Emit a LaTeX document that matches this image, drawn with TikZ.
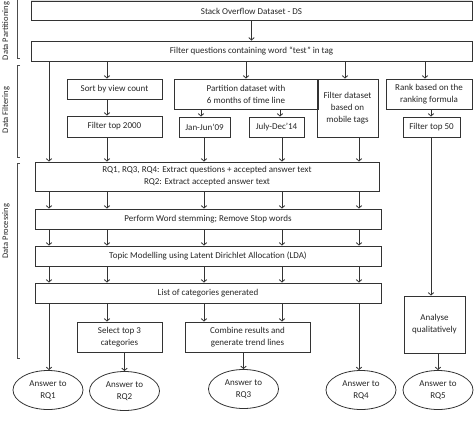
\documentclass[tikz,border=0pt]{standalone}
\usepackage{fontspec}
\setmainfont{Carlito}
\usetikzlibrary{arrows.meta,shapes.geometric}
\begin{document}
\begin{tikzpicture}[x=1pt,y=-1pt,
  every node/.style={font=\fontsize{9}{12}\selectfont, inner sep=0pt, align=center, text=black!85},
  box/.style={draw=black!80, line width=0.8pt, rectangle},
  oval/.style={draw=black!80, line width=0.8pt, ellipse, minimum width=70pt, minimum height=39pt},
  arr/.style={draw=black!80, line width=0.8pt, -{Straight Barb[length=2.5pt,width=5.5pt]}},
  brk/.style={draw=black!70, line width=0.8pt},
  lbl/.style={rotate=90, font=\fontsize{8.5}{10}\selectfont}]
\useasboundingbox (0,0) rectangle (474,426);
\fill[black!12] (31,0) rectangle (472,1.5);
% column coordinates
\coordinate (c1) at (49,0);
\coordinate (c2) at (107,0);
\coordinate (c3) at (204,0);
\coordinate (c4) at (282,0);
\coordinate (c5) at (359,0);
\coordinate (cm) at (345,0);
\coordinate (cr) at (425,0);
\coordinate (cf) at (431,0);
\coordinate (cj) at (201,0);
\coordinate (ck) at (280,0);
% nodes
\node[box, minimum width=441pt, minimum height=19pt] (ds) at (251.5,11) {Stack Overflow Dataset - DS};
\node[box, minimum width=441pt, minimum height=20pt] (filt) at (251.5,51) {Filter questions containing word “test” in tag};
\node[box, minimum width=95pt, minimum height=20pt] (sort) at (114.5,89) {Sort by view count};
\node[box, minimum width=95pt, minimum height=21pt] (f2000) at (114.5,126.5) {Filter top 2000};
\node[box, minimum width=144pt, minimum height=30pt] (part) at (246,94) {Partition dataset with\\6 months of time line};
\node[box, minimum width=51pt, minimum height=20pt] (jan) at (204.5,127) {Jan-Jun’09};
\node[box, minimum width=55pt, minimum height=20pt] (july) at (276.5,127) {July-Dec’14};
\node[box, minimum width=61pt, minimum height=58pt] (mob) at (347.5,108) {Filter dataset\\based on\\mobile tags};
\node[box, minimum width=86pt, minimum height=30pt] (rank) at (429,94) {Rank based on the\\ranking formula};
\node[box, minimum width=57pt, minimum height=20pt] (f50) at (431.5,127) {Filter top 50};
\node[box, minimum width=344pt, minimum height=29pt] (rq) at (207,176.5) {RQ1, RQ3, RQ4: Extract questions + accepted answer text\\RQ2: Extract accepted answer text};
\node[box, minimum width=346pt, minimum height=20pt] (stem) at (208,219) {Perform Word stemming; Remove Stop words};
\node[box, minimum width=346pt, minimum height=20pt] (lda) at (208,256) {Topic Modelling using Latent Dirichlet Allocation (LDA)};
\node[box, minimum width=346pt, minimum height=20pt] (list) at (208,293) {List of categories generated};
\node[box, minimum width=61pt, minimum height=57pt] (ana) at (434.5,324.5) {Analyse\\qualitatively};
\node[box, minimum width=85pt, minimum height=30pt] (sel) at (119.5,337) {Select top 3\\categories};
\node[box, minimum width=125pt, minimum height=30pt] (comb) at (247.5,337) {Combine results and\\generate trend lines};
\node[oval] (e1) at (48,390) {Answer to\\RQ1};
\node[oval] (e2) at (124.5,391) {Answer to\\RQ2};
\node[oval] (e3) at (243.5,389) {Answer to\\RQ3};
\node[oval] (e4) at (361,390) {Answer to\\RQ4};
\node[oval] (e5) at (438,390) {Answer to\\RQ5};
% side labels and brackets
\node[lbl] (lp) at (6,31) {Data Partitioning};
\node[lbl] (lf) at (6,110) {Data Filtering};
\node[lbl] (lpr) at (6,231) {Data Processing};
\draw[brk] (17,0) -- (17,58) -- (20,58);
\draw[brk] (20,65) -- (17,65) -- (17,157) -- (20,157);
\draw[brk] (20,163) -- (17,163) -- (17,358) -- (20,358);
% arrows
\draw[arr] (ds) -- (filt);
\draw[arr] (filt.south -| c1) -- (rq.north -| c1);
\draw[arr] (filt.south -| c2) -- (sort.north -| c2);
\draw[arr] (sort.south -| c2) -- (f2000.north -| c2);
\draw[arr] (f2000.south -| c2) -- (rq.north -| c2);
\draw[arr] (filt.south -| part.north) -- (part.north);
\draw[arr] (part.south -| cj) -- (jan.north -| cj);
\draw[arr] (part.south -| ck) -- (july.north -| ck);
\draw[arr] (jan.south -| c3) -- (rq.north -| c3);
\draw[arr] (july.south -| c4) -- (rq.north -| c4);
\draw[arr] (filt.south -| cm) -- (mob.north -| cm);
\draw[arr] (mob.south -| c5) -- (rq.north -| c5);
\draw[arr] (filt.south -| cr) -- (rank.north -| cr);
\draw[arr] (rank.south -| cf) -- (f50.north -| cf);
\draw[arr] (f50.south -| cf) -- (ana.north -| cf);
\foreach \c in {c1,c2,c3,c4,c5} {
  \draw[arr] (rq.south -| \c) -- (stem.north -| \c);
  \draw[arr] (stem.south -| \c) -- (lda.north -| \c);
  \draw[arr] (lda.south -| \c) -- (list.north -| \c);
}
\draw[arr] (list.south -| c1) -- (c1 |- e1.north);
\draw[arr] (list.south -| c2) -- (sel.north -| c2);
\draw[arr] (list.south -| c3) -- (comb.north -| c3);
\draw[arr] (list.south -| c4) -- (comb.north -| c4);
\draw[arr] (list.south -| c5) -- (c5 |- e4.north);
\draw[arr] (sel.south -| e2.north) -- (e2.north);
\draw[arr] (comb.south -| e3.north) -- (e3.north);
\draw[arr] (ana.south -| e5.north) -- (e5.north);
\end{tikzpicture}
\end{document}
